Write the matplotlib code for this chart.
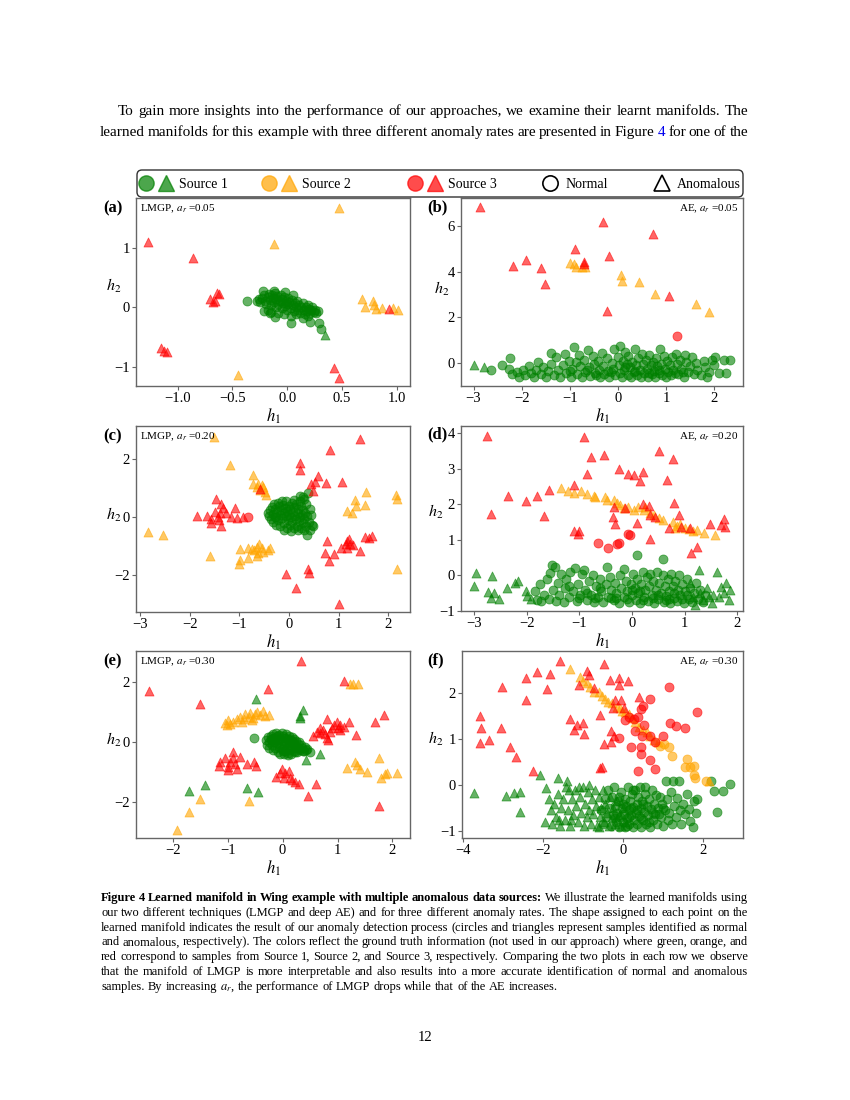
import matplotlib
matplotlib.use("Agg")
import matplotlib.pyplot as plt
from matplotlib.lines import Line2D
from matplotlib.legend_handler import HandlerTuple
from matplotlib.patches import FancyBboxPatch
from matplotlib.transforms import IdentityTransform

plt.rcParams['font.family'] = ['Liberation Serif', 'DejaVu Serif']
plt.rcParams['mathtext.fontset'] = 'stix'
plt.rcParams['axes.unicode_minus'] = True

# ---------------------------------------------------------------- data
# Panel (a): LMGP, a_r = 0.05
a_green_norm = [(-0.37,0.10),(-0.28,0.10),(-0.26,0.13),(-0.25,0.08),(-0.23,0.15),(-0.22,0.28),(-0.21,0.20),(-0.21,-0.06),
    (-0.20,0.10),(-0.19,0.05),(-0.18,0.17),(-0.17,0.22),(-0.16,0.12),(-0.16,-0.10),(-0.15,0.03),(-0.14,0.20),(-0.13,0.15),
    (-0.12,0.08),(-0.11,0.24),(-0.11,-0.16),(-0.10,0.00),(-0.10,0.13),(-0.09,0.18),(-0.08,0.05),(-0.07,0.10),(-0.06,0.20),
    (-0.05,-0.02),(-0.05,0.14),(-0.04,0.07),(-0.03,0.17),(-0.02,0.02),(-0.01,0.11),(0.00,0.05),(0.00,-0.05),(0.01,0.15),
    (0.02,0.08),(0.03,-0.02),(0.04,0.12),(0.05,0.03),(0.06,-0.07),(0.07,0.07),(0.08,0.00),(0.09,0.10),(0.10,-0.04),
    (0.11,0.04),(0.12,-0.10),(0.13,0.01),(0.14,0.07),(0.15,-0.05),(0.16,-0.12),(0.17,0.00),(0.18,-0.07),(0.19,0.03),
    (0.20,-0.03),(0.21,-0.10),(0.22,-0.05),(0.23,0.00),(0.24,-0.08),(0.25,-0.04),(0.26,-0.10),(0.28,-0.06),(-0.18,-0.05),
    (-0.15,-0.08),(-0.08,-0.10),(-0.03,-0.12),(0.03,-0.15),(0.08,-0.12),(0.14,-0.18),(0.19,-0.15),(-0.02,0.25),(0.05,0.20),
    (-0.12,0.28),(0.03,-0.26),(0.21,-0.25),(0.29,-0.26),(0.31,-0.37)]
a_green_anom = [(0.345,-0.46)]
a_orange_anom = [(0.476,1.66),(-0.12,1.06),(-0.446,-1.14),(0.686,0.14),(0.71,0.00),(0.78,0.10),(0.79,0.04),(0.81,-0.03),
    (0.863,-0.02),(0.963,-0.01),(1.006,-0.04)]
a_red_anom = [(-1.267,1.10),(-0.863,0.83),(-0.704,0.13),(-0.674,0.08),(-0.66,0.10),(-0.638,0.23),(-0.62,0.22),
    (-1.152,-0.68),(-1.122,-0.73),(-1.10,-0.75),(0.43,-1.02),(0.476,-1.18),(0.927,-0.03)]

# Panel (b): AE, a_r = 0.05
b_green_norm = [(-2.63,-0.31),(-2.40,-0.10),(-2.27,-0.28),(-2.25,0.20),(-2.20,-0.50),(-2.10,-0.40),(-2.05,-0.60),
    (-1.98,-0.30),(-1.92,-0.55),(-1.85,-0.15),(-1.80,-0.45),(-1.75,-0.62),(-1.70,-0.30),(-1.65,0.05),(-1.60,-0.50),
    (-1.55,-0.20),(-1.50,-0.60),(-1.45,-0.35),(-1.40,0.45),(-1.38,-0.05),(-1.32,-0.55),(-1.28,0.25),(-1.25,-0.30),
    (-1.20,-0.62),(-1.15,-0.10),(-1.10,0.40),(-1.08,-0.45),(-1.02,0.10),(-0.98,-0.60),(-0.95,-0.25),(-0.92,0.70),
    (-0.88,0.05),(-0.85,-0.50),(-0.80,0.35),(-0.78,-0.15),(-0.75,-0.62),(-0.70,0.15),(-0.68,-0.40),(-0.62,0.55),
    (-0.60,-0.20),(-0.58,-0.58),(-0.52,0.30),(-0.50,-0.05),(-0.48,-0.45),(-0.42,0.10),(-0.40,-0.30),(-0.38,-0.62),
    (-0.32,0.45),(-0.30,-0.15),(-0.28,-0.50),(-0.22,0.20),(-0.20,-0.35),(-0.18,-0.60),(-0.12,0.00),(-0.10,-0.25),
    (-0.08,0.60),(-0.05,-0.55),(0.00,0.25),(0.02,-0.10),(0.05,0.75),(0.05,-0.45),(0.08,-0.62),(0.10,0.10),(0.12,-0.30),
    (0.15,0.50),(0.18,-0.05),(0.20,-0.55),(0.22,0.30),(0.25,-0.20),(0.28,-0.62),(0.30,0.05),(0.33,-0.40),(0.35,0.60),
    (0.38,-0.10),(0.40,-0.55),(0.42,0.20),(0.45,-0.30),(0.48,-0.62),(0.50,0.40),(0.52,-0.05),(0.55,-0.45),(0.58,0.15),
    (0.60,-0.25),(0.62,-0.60),(0.65,0.35),(0.68,-0.10),(0.70,-0.50),(0.72,0.05),(0.75,-0.35),(0.78,-0.62),(0.80,0.20),
    (0.82,-0.15),(0.85,-0.45),(0.88,0.60),(0.90,-0.05),(0.92,-0.55),(0.95,0.30),(0.98,-0.25),(1.00,-0.60),(1.02,0.10),
    (1.05,-0.40),(1.08,-0.10),(1.10,-0.55),(1.12,0.25),(1.15,-0.30),(1.20,0.40),(1.22,-0.05),(1.25,-0.50),(1.30,0.15),
    (1.32,-0.25),(1.38,-0.60),(1.40,0.35),(1.42,0.05),(1.45,-0.40),(1.50,-0.15),(1.55,0.25),(1.58,-0.50),(1.62,0.00),
    (1.65,-0.30),(1.72,-0.55),(1.78,0.10),(1.80,-0.20),(1.85,-0.62),(1.90,-0.40),(1.95,0.15),(2.00,-0.10),(2.02,0.25),
    (2.10,-0.45),(2.20,0.15),(2.25,-0.45),(2.33,0.15),(-0.65,-0.30),(-0.15,-0.40),(0.35,-0.35),(0.85,-0.30),(1.35,-0.40),
    (-1.00,-0.35),(-0.45,-0.55),(0.15,-0.20),(0.65,-0.45),(1.18,-0.45)]
b_green_anom = [(-3.00,-0.10),(-2.79,-0.19)]
b_orange_anom = [(-0.99,4.38),(-0.91,4.31),(-0.88,4.19),(-0.74,4.19),(-0.69,4.19),(0.07,3.84),(0.08,3.60),(0.43,3.53),
    (0.78,3.01),(1.63,2.57),(1.90,2.25)]
b_red_norm = [(1.22,1.19)]
b_red_anom = [(-2.86,6.81),(-2.18,4.24),(-1.91,4.50),(-1.60,4.16),(-1.52,3.46),(-0.89,4.97),(-0.70,4.41),(-0.71,4.31),
    (-0.313,6.18),(-0.175,4.68),(-0.22,2.28),(0.72,5.63),(1.07,2.94)]

# Panel (c): LMGP, a_r = 0.20
c_green_norm = [(-0.42,0.15),(-0.40,0.05),(-0.38,0.25),(-0.36,-0.05),(-0.35,0.35),(-0.33,0.12),(-0.31,-0.15),(-0.30,0.45),
    (-0.28,0.02),(-0.27,0.30),(-0.25,-0.25),(-0.24,0.18),(-0.22,0.50),(-0.21,-0.08),(-0.20,0.38),(-0.18,0.08),(-0.17,-0.30),
    (-0.15,0.25),(-0.14,0.55),(-0.13,-0.02),(-0.12,0.42),(-0.10,0.15),(-0.09,-0.20),(-0.08,0.32),(-0.06,0.05),(-0.05,0.58),
    (-0.04,-0.35),(-0.03,0.22),(-0.02,-0.10),(0.00,0.40),(0.01,0.10),(0.02,-0.25),(0.03,0.30),(0.05,0.00),(0.06,0.50),
    (0.07,-0.15),(0.08,0.20),(0.10,-0.38),(0.11,0.35),(0.12,0.05),(0.14,-0.05),(0.15,0.45),(0.16,-0.28),(0.18,0.15),
    (0.19,0.28),(0.20,-0.12),(0.22,0.55),(0.23,0.00),(0.24,-0.35),(0.25,0.38),(0.26,0.10),(0.28,-0.20),(0.29,0.25),
    (0.30,0.65),(0.31,-0.05),(0.33,0.15),(0.34,-0.30),(0.35,0.45),(0.36,-0.60),(0.37,0.05),(0.39,0.85),(0.40,-0.15),
    (0.42,-0.44),(0.43,0.30),(0.45,0.10),(0.47,-0.25),(0.49,-0.30),(0.22,0.75),(0.29,0.72),(-0.10,-0.45),(0.05,-0.48),
    (0.18,-0.42),(-0.25,0.00),(0.10,0.60),(0.30,-0.45)]
c_orange_anom = [(-1.51,2.78),(-1.19,1.80),(-0.73,1.46),(-0.73,1.15),(-0.55,1.11),(-0.52,1.06),(-0.58,0.94),(-0.48,0.89),
    (-0.46,0.77),(-0.65,1.06),(-0.62,1.15),(-2.83,-0.52),(-2.54,-0.61),(-1.59,-1.33),(-0.99,-1.10),(-0.99,-1.47),
    (-1.00,-1.62),(-0.82,-1.41),(-0.82,-1.07),(-0.75,-1.10),(-0.65,-1.01),(-0.60,-0.93),(-0.55,-1.07),(-0.65,-1.33),
    (-0.62,-1.22),(-0.52,-1.18),(-0.38,-1.07),(-0.42,-1.13),(-0.70,-1.13),(1.56,0.89),(1.33,0.60),(1.36,0.39),(1.17,0.23),
    (1.27,0.16),(1.53,0.43),(2.15,0.76),(2.18,0.63),(2.18,-1.77)]
c_red_norm = [(-0.82,0.00)]
c_red_anom = [(1.43,2.70),(0.83,2.34),(0.23,1.89),(0.22,1.63),(0.59,1.43),(0.44,1.15),(0.52,1.23),(0.48,0.92),(0.74,1.20),
    (1.08,1.22),(-0.58,0.97),(-1.86,0.06),(-1.46,0.63),(-1.36,0.46),(-1.32,0.34),(-1.64,0.06),(-1.56,-0.06),(-1.49,0.20),
    (-1.42,0.02),(-1.38,0.14),(-1.26,0.14),(-1.17,0.00),(-1.08,0.31),(-1.05,-0.03),(-1.56,-0.21),(-1.36,-0.30),
    (-1.40,-0.09),(-0.92,0.00),(-0.06,-1.95),(0.15,-2.45),(0.39,-1.79),(0.41,-1.93),(1.01,-2.97),(0.76,-0.80),(0.72,-1.24),
    (0.81,-1.49),(0.91,-1.26),(1.04,-1.07),(1.17,-0.80),(1.17,-1.07),(1.21,-0.76),(1.24,-0.90),(1.44,-1.15),(1.53,-0.67),
    (1.62,-0.72),(1.68,-0.64),(1.30,-0.95),(1.16,-0.92)]

# Panel (d): AE, a_r = 0.20
d_green_norm = [(-1.85,-0.45),(-1.80,-0.70),(-1.75,-0.25),(-1.72,-0.72),(-1.68,-0.55),(-1.62,-0.10),(-1.58,-0.65),
    (-1.55,0.08),(-1.52,0.30),(-1.50,-0.40),(-1.46,0.25),(-1.45,-0.72),(-1.40,-0.20),(-1.38,-0.55),(-1.35,0.05),
    (-1.30,-0.75),(-1.28,-0.35),(-1.25,-0.10),(-1.20,-0.60),(-1.18,0.10),(-1.12,-0.45),(-1.08,0.20),(-1.05,-0.72),
    (-1.02,-0.25),(-0.98,-0.55),(-0.95,0.05),(-0.92,0.15),(-0.90,-0.40),(-0.85,-0.70),(-0.82,-0.15),(-0.78,-0.55),
    (-0.75,0.00),(-0.72,-0.75),(-0.68,-0.30),(-0.65,-0.60),(-0.60,-0.10),(-0.58,-0.45),(-0.55,-0.75),(-0.50,-0.25),
    (-0.48,0.25),(-0.45,-0.60),(-0.42,-0.05),(-0.40,-0.40),(-0.35,-0.70),(-0.32,-0.20),(-0.30,-0.50),(-0.25,-0.78),
    (-0.22,0.00),(-0.20,-0.35),(-0.16,0.17),(-0.15,-0.60),(-0.12,-0.15),(-0.10,-0.45),(-0.05,-0.75),(-0.02,-0.25),
    (0.00,-0.55),(0.02,0.05),(0.05,-0.35),(0.08,-0.70),(0.09,0.58),(0.10,-0.10),(0.12,-0.50),(0.15,-0.78),(0.18,-0.25),
    (0.20,0.10),(0.22,-0.60),(0.25,-0.40),(0.28,-0.05),(0.30,-0.72),(0.32,-0.30),(0.35,0.05),(0.38,-0.55),(0.40,-0.15),
    (0.42,-0.78),(0.45,-0.40),(0.48,0.10),(0.50,-0.65),(0.52,-0.20),(0.55,-0.50),(0.58,0.00),(0.59,0.46),(0.60,-0.75),
    (0.62,-0.30),(0.65,-0.58),(0.68,-0.10),(0.70,-0.45),(0.72,-0.78),(0.75,0.05),(0.78,-0.30),(0.80,-0.62),(0.82,-0.15),
    (0.85,-0.72),(0.88,-0.40),(0.90,0.00),(0.92,-0.55),(0.95,-0.25),(0.98,-0.78),(1.00,-0.45),(1.05,-0.10),(1.08,-0.65),
    (1.10,-0.35),(1.15,-0.75),(1.18,-0.50),(1.22,-0.20),(1.25,-0.65),(1.30,-0.40),(1.35,-0.75),(1.38,-0.55),(-1.00,-0.62),
    (-0.70,-0.62),(-0.40,-0.62),(-0.10,-0.65),(0.20,-0.68),(0.50,-0.55),(0.80,-0.50),(1.05,-0.55),(-1.20,-0.30),
    (-0.60,-0.35),(0.00,-0.40),(0.40,-0.62),(0.70,-0.65),(-0.30,-0.62),(0.95,-0.65),(-0.85,-0.50),(0.15,-0.45),(0.65,-0.70)]
d_green_anom = [(-2.96,0.06),(-3.01,-0.29),(-2.66,-0.02),(-2.73,-0.46),(-2.68,-0.64),(-2.63,-0.48),(-2.52,-0.67),
    (-2.37,-0.36),(-2.22,-0.22),(-2.16,-0.15),(-2.01,-0.43),(-1.99,-0.57),(-1.92,-0.66),(1.28,0.15),(1.62,0.10),
    (1.10,-0.22),(1.16,-0.60),(1.29,-0.50),(1.35,-0.69),(1.54,-0.55),(1.70,-0.32),(1.78,-0.22),(1.75,-0.50),(1.85,-0.69),
    (1.86,-0.41),(1.42,-0.36),(1.53,-0.77),(1.20,-0.83),(1.65,-0.60),(1.46,-0.60)]
d_orange_anom = [(-1.34,2.45),(-1.21,2.38),(-1.11,2.33),(-0.96,2.38),(-0.86,2.29),(-0.73,2.24),(-0.70,2.22),(-0.51,2.22),
    (-0.48,2.14),(-0.35,2.12),(-0.29,2.05),(-0.23,1.98),(-0.16,1.89),(-0.07,1.92),(0.03,1.84),(0.12,1.92),(0.22,1.84),
    (0.34,1.77),(0.41,1.70),(0.52,1.61),(0.59,1.56),(0.78,1.51),(0.85,1.39),(0.91,1.45),(1.01,1.35),(1.09,1.30),
    (1.16,1.25),(1.23,1.28),(1.37,1.21),(1.58,1.14),(0.82,1.33),(0.25,1.94)]
d_red_norm = [(-0.64,0.91),(-0.45,0.78),(-0.28,0.89),(-0.24,0.91),(-0.07,1.17),(-0.03,1.14)]
d_red_anom = [(-2.75,3.92),(-0.91,3.89),(-0.77,3.34),(-0.54,3.39),(-0.85,2.87),(-0.24,3.01),(-0.07,2.87),(0.03,2.83),
    (0.20,2.92),(0.16,2.67),(0.52,3.51),(0.78,3.27),(0.67,2.69),(-2.35,2.25),(-2.01,2.10),(-1.81,2.24),(-1.58,2.40),
    (-1.68,1.67),(-2.68,1.73),(-1.11,2.55),(-1.10,1.25),(-1.00,1.26),(-1.02,1.17),(-0.35,1.94),(-0.37,1.64),(-0.32,1.45),
    (-0.13,1.89),(0.09,1.47),(0.20,2.00),(0.33,1.95),(0.35,1.70),(0.44,1.64),(0.34,1.02),(0.71,1.33),(0.80,2.03),
    (0.90,1.70),(0.94,1.37),(1.10,1.35),(1.13,0.62),(1.23,0.81),(1.49,1.44),(1.70,1.42),(1.75,1.58),(1.77,1.37)]

# Panel (e): LMGP, a_r = 0.30
e_green_norm = [(-0.30,0.05),(-0.28,-0.10),(-0.27,0.15),(-0.25,-0.02),(-0.24,-0.20),(-0.22,0.20),(-0.21,0.08),
    (-0.20,-0.12),(-0.18,0.25),(-0.17,-0.28),(-0.16,0.00),(-0.15,0.12),(-0.14,-0.20),(-0.12,0.28),(-0.11,-0.06),
    (-0.10,0.18),(-0.09,-0.35),(-0.08,0.05),(-0.07,-0.18),(-0.06,0.22),(-0.05,-0.40),(-0.04,0.10),(-0.03,-0.08),
    (-0.02,0.30),(-0.01,-0.25),(0.00,0.02),(0.01,0.18),(0.02,-0.42),(0.03,-0.12),(0.04,0.12),(0.05,-0.30),(0.06,0.00),
    (0.07,0.25),(0.08,-0.20),(0.09,-0.38),(0.10,0.08),(0.11,-0.05),(0.12,0.20),(0.13,-0.28),(0.14,-0.10),(0.15,0.05),
    (0.16,-0.40),(0.17,0.15),(0.18,-0.18),(0.19,-0.02),(0.20,-0.30),(0.21,0.10),(0.23,-0.12),(0.24,-0.22),(0.25,0.02),
    (0.26,-0.35),(0.28,-0.08),(0.29,-0.20),(0.30,0.00),(0.32,-0.28),(0.33,-0.12),(0.35,-0.22),(0.37,-0.30),(0.40,-0.18),
    (0.42,-0.28),(0.45,-0.25),(-0.53,0.13),(0.22,-0.36),(0.39,-0.31),(0.50,-0.36),(-0.20,0.05),(0.00,-0.30),(0.10,-0.45)]
e_green_anom = [(-0.48,1.41),(-1.41,-1.44),(-1.70,-1.64),(-0.65,-1.53),(-0.44,-1.69),(0.37,1.06),(0.32,0.87),(0.31,0.78),
    (0.43,-0.61),(0.68,-0.42)]
e_orange_anom = [(-1.05,0.61),(-1.02,0.56),(-0.99,0.72),(-0.96,0.58),(-0.90,0.64),(-0.83,0.76),(-0.77,0.83),(-0.71,0.76),
    (-0.68,0.91),(-0.62,0.83),(-0.59,0.94),(-0.54,0.80),(-0.50,0.91),(-0.46,1.00),(-0.41,0.89),(-0.36,1.02),(-0.32,0.87),
    (-0.24,0.89),(-0.74,0.67),(-0.56,0.72),(1.23,1.91),(1.29,1.91),(1.38,1.91),(1.18,-0.89),(1.32,-0.67),(1.35,-0.78),
    (1.41,-0.91),(1.53,-1.02),(1.75,-0.53),(1.79,-1.20),(1.87,-1.09),(1.90,-1.06),(2.08,-1.06),(-1.51,-1.91),
    (-1.70,-2.33),(-1.93,-2.94),(-0.62,-1.98)]
e_red_anom = [(-2.44,1.70),(-1.50,1.24),(-0.26,1.76),(0.34,2.69),(1.11,2.02),(1.68,0.67),(1.85,0.89),(1.76,-2.14),
    (0.47,-1.80),(0.61,-1.42),(1.33,0.22),(-1.14,-0.67),(-1.16,-0.80),(-1.00,-0.94),(-0.96,-0.69),(-0.91,-0.36),
    (-0.90,-0.56),(-0.86,-0.76),(-0.83,-0.91),(-0.77,-0.50),(-0.65,-0.76),(-0.52,-0.67),(-0.48,-0.80),(-1.05,-0.56),
    (-0.99,-0.83),(-0.12,-1.17),(-0.05,-1.06),(-0.02,-0.91),(0.05,-1.06),(0.11,-0.98),(0.13,-1.22),(0.17,-1.28),
    (0.23,-1.36),(0.29,-1.42),(0.03,-1.22),(0.56,0.20),(0.62,0.31),(0.68,0.28),(0.73,0.39),(0.77,0.24),(0.80,0.13),
    (0.86,0.31),(0.90,0.47),(0.93,0.56),(0.99,0.64),(1.04,0.56),(1.00,0.44),(0.80,0.76),(1.05,0.39),(0.68,0.44),
    (0.83,0.06),(1.20,0.64),(1.11,0.50)]

# Panel (f): AE, a_r = 0.30
f_green_norm = [(-0.55,-0.55),(-0.50,-0.85),(-0.45,-0.30),(-0.42,-0.70),(-0.38,-0.10),(-0.35,-0.50),(-0.30,-0.88),
    (-0.28,-0.25),(-0.25,-0.65),(-0.22,-0.05),(-0.20,-0.45),(-0.18,-0.80),(-0.15,-0.60),(-0.12,-0.35),(-0.10,-0.90),
    (-0.08,-0.70),(-0.05,-0.15),(-0.03,-0.50),(0.00,-0.80),(0.02,-0.62),(0.04,-0.30),(0.06,-0.90),(0.08,-0.45),
    (0.10,-0.72),(0.12,-0.05),(0.14,-0.55),(0.16,-0.85),(0.18,-0.35),(0.20,-0.65),(0.22,-0.20),(0.24,-0.90),(0.26,-0.48),
    (0.28,-0.75),(0.30,-0.10),(0.32,-0.60),(0.34,-0.40),(0.36,-0.85),(0.38,-0.25),(0.40,-0.68),(0.42,-0.05),(0.44,-0.50),
    (0.46,-0.90),(0.48,-0.35),(0.50,-0.75),(0.52,-0.58),(0.55,-0.20),(0.58,-0.85),(0.60,-0.45),(0.62,-0.65),(0.65,-0.30),
    (0.68,-0.90),(0.70,-0.52),(0.72,-0.10),(0.75,-0.75),(0.78,-0.40),(0.80,-0.62),(0.82,-0.22),(0.85,-0.85),(0.88,-0.50),
    (0.92,-0.25),(0.95,-0.70),(0.98,-0.40),(1.00,-0.88),(1.05,-0.55),(1.08,0.10),(1.10,-0.30),(1.12,-0.75),(1.15,-0.60),
    (1.20,-0.15),(1.22,-0.85),(1.25,0.10),(1.28,-0.45),(1.32,-0.70),(1.35,-0.28),(1.40,0.10),(1.42,-0.55),(1.45,-0.85),
    (1.50,-0.40),(1.55,-0.62),(1.60,-0.20),(1.65,-0.52),(1.68,-0.78),(1.75,-0.90),(1.78,-0.35),(1.82,-0.60),(1.85,-0.30),
    (2.27,-0.12),(2.50,-0.12),(2.67,0.03),(2.35,-0.58),(2.20,0.08),(-0.10,-0.25),(0.25,-0.10),(0.55,-0.05),(0.00,-0.40),
    (0.15,-0.70),(0.35,-0.55),(0.65,-0.80),(0.90,-0.62),(0.10,-0.88),(0.45,-0.72),(-0.20,-0.72),(0.75,-0.60),(0.20,-0.50),
    (0.50,-0.40),(1.00,-0.50)]
f_green_anom = [(-3.71,-0.18),(-2.93,-0.23),(-2.73,-0.18),(-2.58,-0.14),(-2.56,-0.59),(-2.06,0.22),(-1.91,-0.06),
    (-1.63,0.15),(-1.40,0.09),(-1.85,-0.30),(-1.80,-0.55),(-1.78,-0.85),(-1.72,-0.40),(-1.68,-0.70),(-1.62,-0.20),
    (-1.58,-0.88),(-1.55,-0.50),(-1.50,-0.30),(-1.45,-0.75),(-1.42,-0.05),(-1.38,-0.55),(-1.32,-0.88),(-1.28,-0.30),
    (-1.25,-0.65),(-1.20,-0.10),(-1.18,-0.45),(-1.12,-0.80),(-1.08,-0.25),(-1.05,-0.60),(-1.00,-0.05),(-0.98,-0.88),
    (-0.95,-0.40),(-0.90,-0.70),(-0.88,-0.15),(-0.85,-0.55),(-0.80,-0.85),(-0.78,-0.30),(-0.75,-0.62),(-0.70,-0.10),
    (-0.68,-0.45),(-0.65,-0.88),(-0.60,-0.25),(-0.58,-0.70),(-0.55,-0.50),(-0.50,-0.10),(-0.48,-0.80),(-0.45,-0.40),
    (-0.40,-0.60),(-0.35,-0.88),(-0.32,-0.25),(-0.28,-0.70),(-0.25,-0.50),(-0.20,-0.85),(-0.15,-0.35),(-0.10,-0.65),
    (-0.05,-0.88),(0.00,-0.50),(-1.95,-0.80),(-1.60,-0.75),(-1.30,-0.75),(-0.60,-0.90),(-1.10,-0.05),(-1.35,-0.10),
    (-0.85,0.00),(0.05,-0.80)]
f_orange_norm = [(0.93,0.86),(1.02,0.89),(1.14,0.84),(1.23,0.64),(1.60,0.58),(1.56,0.40),(1.67,0.40),(1.77,0.42),
    (1.78,0.22),(1.81,0.15),(2.08,0.09)]
f_orange_anom = [(-1.33,2.53),(-1.06,2.36),(-1.00,2.27),(-0.90,2.22),(-0.81,2.14),(-0.71,2.03),(-0.60,2.02),(-0.52,1.95),
    (-0.44,1.87),(-0.38,1.82),(-0.27,1.78),(-0.16,1.71),(-0.08,1.67),(-0.02,1.61),(0.06,1.60),(0.14,1.54),(0.23,1.47),
    (0.31,1.37),(0.39,1.27),(0.50,1.20),(0.60,1.15),(0.68,1.06),(0.78,0.99),(0.87,0.95),(2.16,0.08)]
f_red_norm = [(1.14,2.14),(0.68,1.88),(0.50,1.72),(0.44,1.66),(0.37,1.48),(0.27,1.44),(0.14,1.48),(0.06,1.41),
    (-0.11,1.03),(0.19,0.83),(0.44,0.68),(0.68,0.54),(0.81,0.36),(0.45,0.83),(0.31,1.17),(0.48,1.08),(0.52,1.31),
    (0.68,1.08),(1.18,1.35),(1.33,1.29),(1.56,1.24),(1.84,1.60),(0.37,0.31),(1.00,1.08),(0.79,0.93)]
f_red_anom = [(-1.58,2.70),(-2.41,2.34),(-2.14,2.47),(-1.83,2.41),(-3.03,2.14),(-1.90,2.09),(-2.41,1.85),(-3.58,1.51),
    (-3.55,1.24),(-3.58,0.91),(-3.35,0.98),(-3.04,1.25),(-2.83,0.84),(-2.66,0.62),(-2.25,0.30),(-1.33,1.44),(-1.15,1.31),
    (-1.00,1.35),(-0.98,1.11),(-1.23,1.19),(-1.10,2.19),(-0.89,2.48),(-0.85,2.40),(-0.71,2.12),(-0.56,1.53),(-0.48,2.63),
    (-0.33,2.29),(-0.10,2.33),(-0.10,2.18),(0.12,2.27),(-0.31,1.18),(-0.23,1.06),(-0.31,0.94),(-0.48,0.89),(-0.25,1.68),
    (-0.19,1.85),(-0.06,1.85),(0.02,1.69),(0.39,1.92),(-0.58,0.37),(-0.52,0.40)]

panel_letters = ['(a)', '(b)', '(c)', '(d)', '(e)', '(f)']
panel_titles = ['LMGP, $a_r$ =0.05', 'AE, $a_r$ =0.05', 'LMGP, $a_r$ =0.20',
                'AE, $a_r$ =0.20', 'LMGP, $a_r$ =0.30', 'AE, $a_r$ =0.30']
panel_xticks = [[-1.0, -0.5, 0.0, 0.5, 1.0], [-3, -2, -1, 0, 1, 2], [-3, -2, -1, 0, 1, 2],
                [-3, -2, -1, 0, 1, 2], [-2, -1, 0, 1, 2], [-4, -2, 0, 2]]
panel_yticks = [[-1, 0, 1], [0, 2, 4, 6], [-2, 0, 2], [-1, 0, 1, 2, 3, 4], [-2, 0, 2], [-1, 0, 1, 2]]
panel_xlim = [(-1.38, 1.12), (-3.26, 2.60), (-3.08, 2.44), (-3.25, 2.11), (-2.67, 2.32), (-4.02, 3.00)]
panel_ylim = [(-1.32, 1.83), (-1.01, 7.22), (-3.26, 3.15), (-1.00, 4.21), (-3.21, 3.02), (-1.15, 2.92)]
source_labels = ['Source 1', 'Source 2', 'Source 3', 'Normal', 'Anomalous']

panels = [
    dict(gn=a_green_norm, ga=a_green_anom, on=[], oa=a_orange_anom, rn=[], ra=a_red_anom),
    dict(gn=b_green_norm, ga=b_green_anom, on=[], oa=b_orange_anom, rn=b_red_norm, ra=b_red_anom),
    dict(gn=c_green_norm, ga=[], on=[], oa=c_orange_anom, rn=c_red_norm, ra=c_red_anom),
    dict(gn=d_green_norm, ga=d_green_anom, on=[], oa=d_orange_anom, rn=d_red_norm, ra=d_red_anom),
    dict(gn=e_green_norm, ga=e_green_anom, on=[], oa=e_orange_anom, rn=[], ra=e_red_anom),
    dict(gn=f_green_norm, ga=f_green_anom, on=f_orange_norm, oa=f_orange_anom, rn=f_red_norm, ra=f_red_anom),
]

# ---------------------------------------------------------------- layout
W, H = 850, 1100
fig = plt.figure(figsize=(8.5, 11), dpi=100)

def rect(l, t, r, b):
    return [l / W, 1 - b / H, (r - l) / W, (b - t) / H]

rects = [rect(136, 198, 410, 386), rect(461, 198, 743, 386),
         rect(136, 426, 410, 612), rect(461, 426, 743, 611),
         rect(136, 651, 410, 838), rect(462, 651, 743, 838)]
letter_pos = [(103, 208), (427, 207), (103, 436), (427, 434), (103, 661), (427, 660)]
ylabel_x = [114, 442, 114, 436, 114, 436]
ylabel_y = [286, 289, 515, 512, 740, 739]

COL = {'g': 'green', 'o': 'orange', 'r': 'red'}
ALPHA = 0.6
S = 42
SPINE = '#666666'

for i, p in enumerate(panels):
    ax = fig.add_axes(rects[i])
    for key in ['g', 'o', 'r']:
        for shape, mk in [('n', 'o'), ('a', '^')]:
            pts = p[key + shape]
            if pts:
                xs = [q[0] for q in pts]
                ys = [q[1] for q in pts]
                ax.scatter(xs, ys, s=S, marker=mk, color=COL[key], alpha=ALPHA, linewidths=0.6)
    ax.set_xlim(*panel_xlim[i])
    ax.set_ylim(*panel_ylim[i])
    ax.set_xticks(panel_xticks[i])
    ax.set_yticks(panel_yticks[i])
    ax.tick_params(labelsize=10.5, length=3, width=0.8, color=SPINE, pad=1.5)
    for sp in ax.spines.values():
        sp.set_color(SPINE)
        sp.set_linewidth(1.0)
    ax.set_xlabel('$h_1$', fontsize=12, labelpad=1)
    ax.set_ylabel('$h_2$', fontsize=11.5, rotation=0, va='center', ha='center')
    l, b, w, h = rects[i]
    ax.yaxis.set_label_coords((ylabel_x[i] / W - l) / w, ((1 - ylabel_y[i] / H) - b) / h)
    if i % 2 == 0:
        ax.text(0.016, 0.975, panel_titles[i], transform=ax.transAxes, ha='left', va='top', fontsize=8)
    else:
        ax.text(0.985, 0.975, panel_titles[i], transform=ax.transAxes, ha='right', va='top', fontsize=8)
    lx, ly = letter_pos[i]
    fig.text(lx / W, 1 - ly / H, panel_letters[i], fontsize=12, fontweight='bold', ha='left', va='center')

# ---------------------------------------------------------------- legend
def mk(marker, color, fill=True):
    return Line2D([], [], linestyle='none', marker=marker, markersize=11,
                  markerfacecolor=color if fill else 'none',
                  markeredgecolor=color if fill else 'black',
                  alpha=0.7 if fill else 1.0, markeredgewidth=1.0 if fill else 1.2)

LEG_FS = 10.0
em = LEG_FS * 100 / 72.0
leg_handles = [(mk('o', 'green'), mk('^', 'green')),
               (mk('o', 'orange'), mk('^', 'orange')),
               (mk('o', 'red'), mk('^', 'red')),
               mk('o', 'black', fill=False), mk('^', 'black', fill=False)]
leg_start = [136, 259, 405, 541, 653]       # pixel x where each handle begins
leg_hlen = [40, 40, 40, 17.5, 17.5]          # handle length in pixels
leg_tpad = [3, 3, 3, 7.5, 6.5]               # gap between handle and label, pixels
leg_yc = 184

frame = FancyBboxPatch((137, H - 197), 606, 27, boxstyle='round,pad=0,rounding_size=5',
                       transform=IdentityTransform(), fill=False, edgecolor='#333333', linewidth=1.0)
fig.add_artist(frame)
for hnd, lab, x0, hl, tp in zip(leg_handles, source_labels, leg_start, leg_hlen, leg_tpad):
    lg = fig.legend([hnd], [lab], handler_map={tuple: HandlerTuple(ndivide=None, pad=0.0)},
                    loc='center left', bbox_to_anchor=(x0 / W, 1 - leg_yc / H), frameon=False,
                    fontsize=LEG_FS, borderpad=0, borderaxespad=0, handlelength=hl / em,
                    handletextpad=tp / em)

# ---------------------------------------------------------------- page text
renderer = fig.canvas.get_renderer()

def measure(s, size, **kw):
    t = fig.text(0, 0, s, fontsize=size, **kw)
    w = t.get_window_extent(renderer=renderer).width
    t.remove()
    return w

def draw_line(words, x0, x1, ybase, size, justify=True):
    widths = [measure(w, size, **kw) for w, kw in words]
    if justify and len(words) > 1:
        gap = (x1 - x0 - sum(widths)) / (len(words) - 1)
    else:
        gap = measure('a a', size) - measure('aa', size)
    x = x0
    for (w, kw), wd in zip(words, widths):
        fig.text(x / W, 1 - ybase / H, w, fontsize=size, ha='left', va='baseline', **kw)
        x += wd + gap

def words_of(s, **kw):
    return [(w, kw) for w in s.split()]

def fit_size(lines, x0s, x1, want, min_gap_em=0.18):
    size = want
    for _ in range(20):
        ok = True
        for ws, x0 in zip(lines, x0s):
            tot = sum(measure(w, size, **kw) for w, kw in ws)
            if len(ws) > 1 and (x1 - x0 - tot) / (len(ws) - 1) < min_gap_em * size * 100 / 72.0:
                ok = False
        if ok:
            return size
        size -= 0.1
    return size

para1 = [
    words_of('To gain more insights into the performance of our approaches, we examine their learnt manifolds.  The'),
    words_of('learned manifolds for this example with three different anomaly rates are presented in Figure')
    + [('4', dict(color='#0000ee'))] + words_of('for one of the'),
]
para_x0 = [118, 100]
psize = fit_size(para1, para_x0, 748, 11.2)
for k, ws in enumerate(para1):
    draw_line(ws, para_x0[k], 748, 115 + 21 * k, psize)

bold = dict(fontweight='bold')
cap_lines = [
    words_of('Figure 4 Learned manifold in Wing example with multiple anomalous data sources:', **bold)
    + words_of('We illustrate the learned manifolds using'),
    words_of('our two different techniques (LMGP and deep AE) and for three different anomaly rates. The shape assigned to each point on the'),
    words_of('learned manifold indicates the result of our anomaly detection process (circles and triangles represent samples identified as normal'),
    words_of('and anomalous, respectively). The colors reflect the ground truth information (not used in our approach) where green, orange, and'),
    words_of('red correspond to samples from Source 1, Source 2, and Source 3, respectively. Comparing the two plots in each row we observe'),
    words_of('that the manifold of LMGP is more interpretable and also results into a more accurate identification of normal and anomalous'),
    words_of('samples. By increasing $a_r$, the performance of LMGP drops while that of the AE increases.'),
]
csize = fit_size(cap_lines[:-1], [101] * 6, 748, 9.6)
for k, ws in enumerate(cap_lines):
    draw_line(ws, 101, 748, 901 + 14.8 * k, csize, justify=(k < len(cap_lines) - 1))

fig.text(425 / W, 1 - 1041 / H, '12', fontsize=10.5, ha='center', va='baseline')

fig.savefig('out.png', dpi=100)
